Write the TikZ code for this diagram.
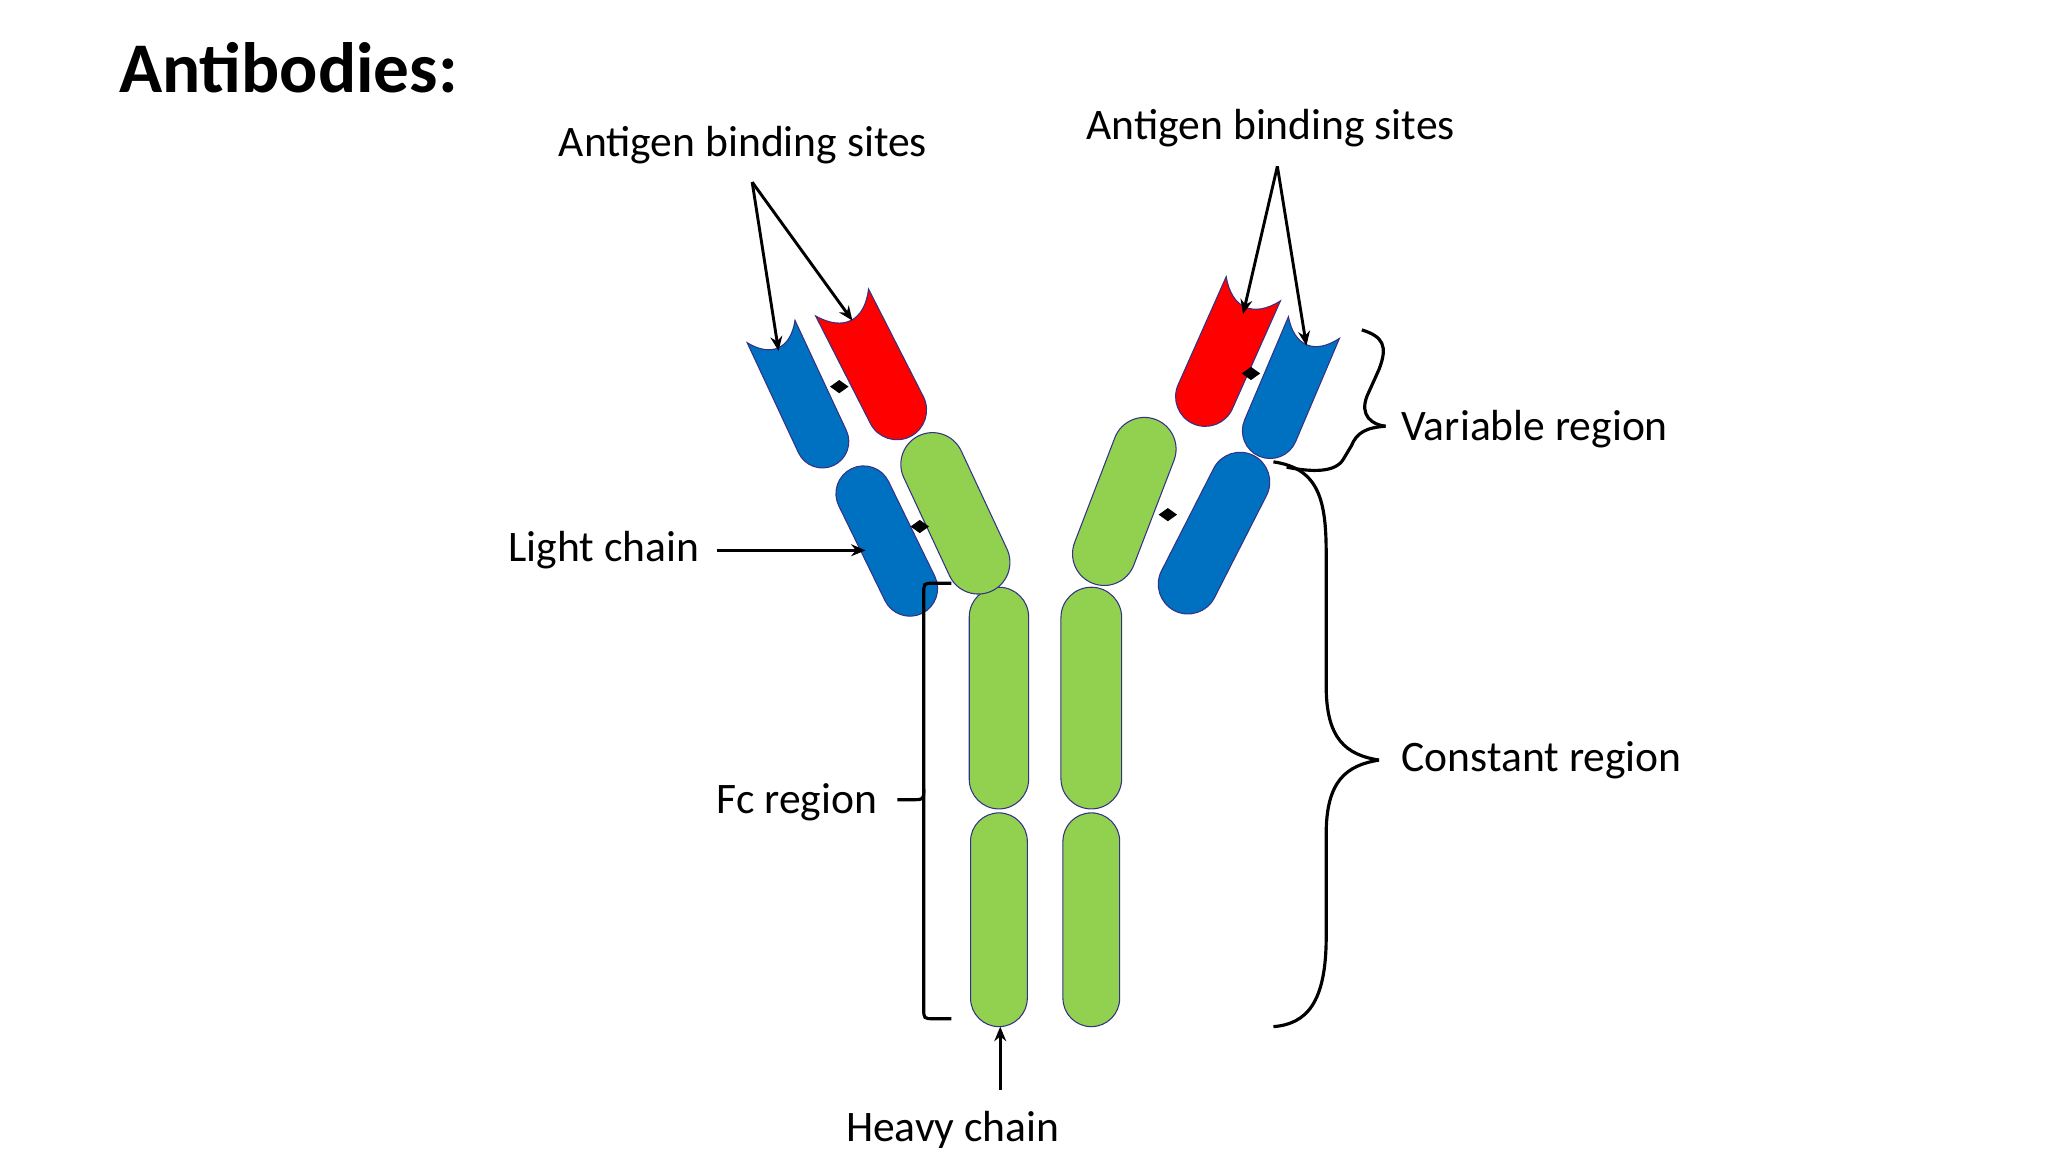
\documentclass[tikz,border=0pt]{standalone}
\usepackage{fontspec}
\setmainfont{Carlito}
\usetikzlibrary{arrows.meta}
\begin{document}
\begin{tikzpicture}[x=1pt,y=-1pt,
  seg/.style={draw=blue!40!black!80,line width=0.8pt},
  lab/.style={font=\fontsize{33}{36}\selectfont,inner sep=0pt},
  arr/.style={line width=2.2pt,-{Stealth[length=11pt,width=9pt]}},
  br/.style={line width=2.4pt}]
\definecolor{ablue}{HTML}{0070C0}
\definecolor{ared}{HTML}{FF0000}
\definecolor{agreen}{HTML}{92D050}
\useasboundingbox (0,0) rectangle (1552,873);
\newcommand\capsule[7]{\begin{scope}[shift={(#1,#2)},rotate=#5]
\pgfmathsetmacro\hh{#3/2-#4/2}\pgfmathsetmacro\rr{#4/2}\pgfmathsetmacro\kk{0.552*#4/2}\pgfmathsetmacro\tp{#3/2}\pgfmathsetmacro\dp{#3/2-0.45*#4}
\ifnum#7=1
\draw[seg,fill=#6] (-\rr,-\tp) .. controls (-\rr*0.4,-\dp) and (\rr*0.4,-\dp) .. (\rr,-\tp) -- (\rr,\hh) .. controls (\rr,\hh+\kk) and (\kk,\hh+\rr) .. (0,\hh+\rr) .. controls (-\kk,\hh+\rr) and (-\rr,\hh+\kk) .. (-\rr,\hh) -- cycle;
\else
\draw[seg,fill=#6] (-\rr,-\hh) .. controls (-\rr,-\hh-\kk) and (-\kk,-\hh-\rr) .. (0,-\hh-\rr) .. controls (\kk,-\hh-\rr) and (\rr,-\hh-\kk) .. (\rr,-\hh) -- (\rr,\hh) .. controls (\rr,\hh+\kk) and (\kk,\hh+\rr) .. (0,\hh+\rr) .. controls (-\kk,\hh+\rr) and (-\rr,\hh+\kk) .. (-\rr,\hh) -- cycle;
\fi
\end{scope}}
\newcommand\dia[2]{\fill (#1-7,#2) -- (#1,#2-5) -- (#1+7,#2) -- (#1,#2+5) -- cycle;}
% title
\node[anchor=base west,inner sep=0pt,font=\fontsize{54}{60}\selectfont\bfseries] (title) at (90,70) {Antibodies:};
% stems
\capsule{757}{529}{168}{45}{0}{agreen}{0}
\capsule{757}{697}{162}{43}{0}{agreen}{0}
\capsule{827}{529}{168}{46}{0}{agreen}{0}
\capsule{827}{697}{162}{43}{0}{agreen}{0}
% left arm
\capsule{672}{410}{122}{42}{26}{ablue}{0}
\capsule{724}{389}{130}{48}{25}{agreen}{0}
\capsule{608}{302}{112}{40}{25}{ablue}{1}
\capsule{664}{280}{114}{45}{27}{ared}{1}
% right arm
\capsule{920}{404}{132}{45}{-27}{ablue}{0}
\capsule{852}{380}{133}{48}{-21}{agreen}{0}
\capsule{975}{297}{106}{42}{-23}{ablue}{1}
\capsule{927}{270}{112}{45}{-24}{ared}{1}
% disulfide marks
\dia{636}{293}\dia{697}{399}\dia{948}{283}\dia{885}{390}
% coordinates
\coordinate (lb) at (590,266); \coordinate (lr) at (646,243);
\coordinate (rr) at (942,238); \coordinate (rb) at (990,262);
\coordinate (lc) at (656,417); \coordinate (hc) at (758,778);
\coordinate (lcs) at (543,417); \coordinate (hcs) at (758,826);
% labels
\node[lab] (abl) at (563,110) {Antigen binding sites};
\node[lab] (abr) at (963,97) {Antigen binding sites};
\node[lab,anchor=east] (light) at (530,417) {Light chain};
\node[lab] (heavy) at (722,856) {Heavy chain};
\node[lab,anchor=east] (fc) at (665,608) {Fc region};
\node[lab,anchor=west] (var) at (1062,325) {Variable region};
\node[lab,anchor=west] (con) at (1062,576) {Constant region};
% arrows
\draw[arr] (570,138) -- (lb);
\draw[arr] (570,138) -- (lr);
\draw[arr] (968,126) -- (rr);
\draw[arr] (968,126) -- (rb);
\draw[arr] (lcs) -- (lc);
\draw[arr] (hcs) -- (hc);
% Fc bracket
\draw[br] (721,442) -- (707,442) .. controls (700,442) .. (700,450) -- (700,598) .. controls (700,606) .. (692,606) -- (680,606);
\draw[br] (700,598) -- (700,764) .. controls (700,772) .. (708,772) -- (721,772);
% constant brace
\draw[br] (965,350) .. controls (1000,355) and (1005,380) .. (1005,420) -- (1005,520) .. controls (1005,560) and (1020,572) .. (1045,576);
\draw[br] (1045,576) .. controls (1020,580) and (1005,592) .. (1005,632) -- (1005,710) .. controls (1005,760) and (990,776) .. (965,778);
% variable brace
\draw[br] (1032,250) .. controls (1048,255) and (1052,262) .. (1045,280) -- (1036,300) .. controls (1030,315) and (1040,322) .. (1050,323);
\draw[br] (1050,323) .. controls (1035,324) and (1028,328) .. (1024,338) -- (1018,348) .. controls (1012,358) and (995,358) .. (975,354);
\end{tikzpicture}
\end{document}
